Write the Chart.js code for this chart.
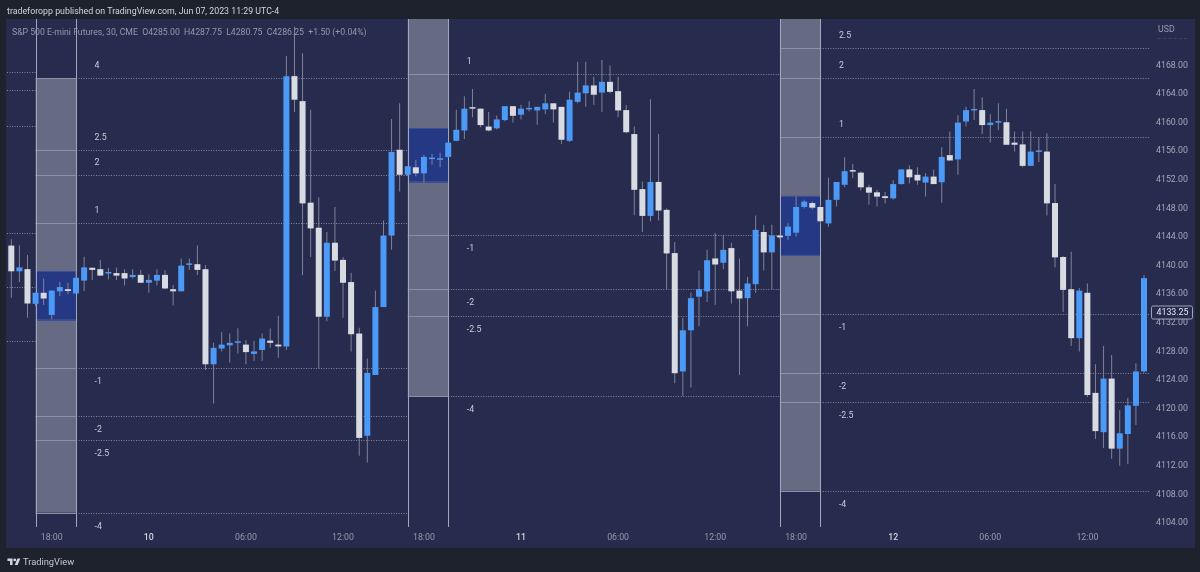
<!DOCTYPE html>
<html>
<head>
<meta charset="utf-8">
<title>ES 30m</title>
<script src="https://cdn.jsdelivr.net/npm/chart.js@4/dist/chart.umd.min.js"></script>
<style>
  html, body { margin: 0; padding: 0; width: 1200px; height: 572px; overflow: hidden; background: #1e222c; }
  body { position: relative; font-family: Roboto, sans-serif; }
  #panel { position: absolute; left: 6px; top: 19px; width: 1189px; height: 529px; background: #272b4d; }
  #chart { position: absolute; left: 0; top: 0; }
  .txt { position: absolute; white-space: pre; }
  #published { left: 7px; top: 4px; font-size: 8.8px; line-height: 14px; color: #d1d4dc; }
  #legend { left: 12px; top: 25px; font-size: 8.7px; line-height: 14px; color: #9598ad; }
  #usd { left: 1158px; top: 22px; font-size: 8.8px; line-height: 14px; color: #9a9db2; }
  #usdDash { position: absolute; left: 1158px; top: 38px; width: 29px; border-top: 1px dashed #3f4364; }
  #logo { position: absolute; left: 7px; top: 557px; }
  #brand { left: 23px; top: 554px; font-size: 9.3px; line-height: 15px; color: #c4c7d2; }
</style>
</head>
<body>
<div id="panel"></div>
<canvas id="chart" width="1200" height="572"></canvas>
<div class="txt" id="published">tradeforopp published on TradingView.com, Jun 07, 2023 11:29 UTC-4</div>
<div class="txt" id="legend">S&amp;P 500 E-mini Futures, 30, CME  O4285.00  H4287.75  L4280.75  C4286.25  +1.50 (+0.04%)</div>
<div class="txt" id="usd">USD</div>
<div id="usdDash"></div>
<svg id="logo" width="14" height="8" viewBox="0 0 36 22"><path fill="#d1d4dc" d="M14 22H7V11H0V4h14v18zM28 22h-8l7.5-18h8L28 22z"/><circle fill="#d1d4dc" cx="20" cy="8" r="4"/></svg>
<div class="txt" id="brand">TradingView</div>
<script>
const opens = [
  4142.6,4139,4139.3,4134.45,4136,4132.9,4136.2,4136.5,4135.9,4137.7,
  4139.5,4139.3,4138.7,4138.75,4138.75,4138.2,4138.5,4137.4,4137.7,4138.5,
  4136.5,4136.2,4139.9,4140,4139.3,4126,4128.2,4128.65,4129,4128.75,
  4127.45,4128,4129.3,4128.75,4128.5,4166.3,4162.8,4148.6,4145.1,4132.65,
  4143,4140.6,4137.5,4130.3,4116,4124.5,4134,4144,4156,4152.5,
  4153.55,4152.7,4154.7,4154.6,4155,4157.25,4158.7,4161.8,4161.75,4159.25,
  4159,4160.15,4162.1,4160.9,4161.65,4161.5,4161.65,4162.5,4162,4157.25,
  4162.7,4163.9,4165,4164,4165.5,4164.2,4161.55,4158.2,4150.5,4146.75,
  4151.5,4147.6,4141.55,4125,4130.75,4135.45,4136.2,4140.8,4140.2,4142.25,
  4136.3,4135.25,4137.2,4144.5,4141.65,4144,4143.95,4144.4,4148,4148.55,
  4148,4145.7,4149,4151.1,4153,4152.8,4150.75,4150.05,4149.5,4149.2,
  4151.2,4153.25,4152.5,4151.4,4152.25,4151.45,4155.25,4154.65,4159.95,4161.5,
  4161.55,4159.45,4159.8,4159.85,4157,4156.75,4153.75,4155.7,4155.75,4148.55,
  4141,4136.5,4129.65,4136,4122,4116.5,4124,4114.2,4116.25,4120.2,4125
];
const highs = [
  4143.5,4142.6,4141.3,4136,4138,4136.3,4137.5,4137.4,4139,4141.05,
  4139.5,4140.6,4139.5,4139.55,4139.3,4139.3,4139.2,4138.6,4139.3,4139.15,
  4137.1,4140.8,4140.8,4142.6,4139.9,4129,4130.5,4130.3,4131.05,4129.4,
  4129.3,4130.3,4131,4132.8,4169.1,4173.2,4169.5,4161.6,4149.35,4144.5,
  4148,4141,4138.8,4131.1,4126.8,4136.3,4146.1,4160.3,4162.5,4153.7,
  4154.6,4155.3,4155.4,4155.6,4157,4161.6,4163.5,4164.5,4161.75,4161.3,
  4160.8,4162.1,4162.1,4162.3,4162.8,4162,4163.8,4162.5,4162,4164.1,
  4168.3,4168.3,4166.2,4168.55,4167.8,4166.2,4162.25,4159.25,4151.55,4163.05,
  4158.2,4147.8,4143.1,4132.5,4136.05,4139.1,4142,4144.4,4144.1,4143,
  4140.8,4138.25,4146.8,4145.5,4145.5,4144.1,4145.8,4149.5,4149,4148.75,
  4148.3,4152.1,4151.5,4154.95,4154,4152.95,4151.1,4150.4,4150.1,4151.75,
  4153.25,4153.85,4153.55,4152.7,4153.25,4156.35,4158.55,4160.85,4162,4164.5,
  4163.35,4161,4162.5,4161.75,4158.55,4158.55,4158.55,4157.75,4158.3,4151.2,
  4141.1,4141.75,4136.65,4137.3,4126,4128.55,4127.3,4119.6,4121.3,4126.15,4138.5
];
const lows = [
  4135.3,4137.5,4132.5,4134.1,4134.3,4132.3,4135.55,4135.8,4135.9,4136.25,
  4137.8,4138.4,4137.9,4137.8,4137,4138,4137.4,4136,4137,4136.5,
  4134.25,4136.2,4139.2,4138.5,4125.2,4120.5,4127.8,4126.25,4127.5,4126,
  4126.5,4126.5,4128.3,4126.9,4128,4161.3,4138.5,4141,4125.4,4132,
  4139.05,4132.5,4127.8,4113.2,4112.25,4124.5,4134,4142,4150.15,4152.3,
  4152.3,4151.4,4153.9,4153.55,4154.9,4157.2,4157.5,4160.55,4159.15,4158.55,
  4158.85,4160,4159.8,4160.25,4161.35,4159.5,4161,4159.8,4156.8,4157.1,
  4162.5,4162,4162.3,4161.3,4163.9,4160.55,4158.3,4146.85,4144.5,4146,
  4146.1,4136.5,4123.35,4121.55,4122.75,4131.3,4134.7,4134.3,4139.3,4134.5,
  4124.5,4131.3,4136,4139.1,4136.5,4143.5,4143.4,4143.85,4147.8,4147.65,
  4145.6,4145.25,4148.05,4150.75,4152.05,4150.3,4148.3,4148.05,4148.5,4149.05,
  4151.15,4151.3,4151.1,4149.45,4151.2,4148.6,4154.5,4152.5,4159.25,4160.15,
  4158.2,4157,4158.75,4156.7,4155.75,4153.55,4153.75,4154.3,4146.8,4139.55,
  4133.3,4128.55,4127.8,4121.4,4115.55,4114.3,4112.8,4111.8,4112.05,4117.5,4124.8
];
const closes = [
  4139,4139.55,4134.5,4136,4135.2,4136.3,4136.8,4136.25,4138.1,4139.55,
  4139.2,4138.4,4138.8,4138.4,4138,4138.5,4137.4,4137.8,4138.5,4136.6,
  4136.2,4139.8,4140,4139.2,4126,4128.3,4128.75,4129,4129.1,4127.7,
  4127.8,4129.6,4129,4128.5,4166.3,4163,4148.5,4145,4132.65,4143,
  4140.5,4137.4,4130.2,4115.7,4124.8,4134,4144,4155.7,4152.5,4153.7,
  4152.7,4155,4154.75,4154.7,4157,4158.8,4161.75,4161.75,4159.45,4158.7,
  4160.25,4162.1,4160.75,4161.75,4161.8,4162,4162.5,4161.65,4157.4,4163,
  4164,4165,4163.7,4165.5,4164.1,4161.5,4158.45,4150.4,4146.75,4151.5,
  4147.5,4141.5,4124.75,4130.75,4135.25,4136.5,4140.55,4139.95,4142,4136.2,
  4135.2,4137.3,4144.8,4141.65,4144,4143.75,4145.25,4148,4148.75,4147.9,
  4146,4149,4151.5,4153,4152.95,4150.75,4150,4149.45,4149.25,4151.2,
  4153.25,4152.15,4151.7,4152.25,4151.2,4155,4154.5,4159.8,4161.55,4161.7,
  4159.45,4159.8,4160,4156.7,4156.7,4153.75,4155.75,4155.8,4148.5,4140.95,
  4136.4,4129.65,4136.3,4121.7,4116.65,4124,4114.2,4116.35,4120.25,4125,4138.05
];

// bar index of each time label
const timeTickBars = [5, 17, 29, 41, 51, 63, 75, 87, 97, 109, 121, 133];
const timeTickLabels = ['18:00', '10', '06:00', '12:00', '18:00', '11', '06:00', '12:00', '18:00', '12', '06:00', '12:00'];
const dayLabels = ['10', '11', '12'];
const priceTicks = [4104, 4108, 4112, 4116, 4120, 4124, 4128, 4132, 4136, 4140, 4144, 4148, 4152, 4156, 4160, 4164, 4168];
const lastPrice = 4133.25;

// opening range boxes: start/end bar, range high/low, fib levels and their names
const zoneStart = [3, 49, 95];
const zoneEnd = [8, 54, 100];
const zoneHigh = [4139, 4159.05, 4149.55];
const zoneLow = [4132.25, 4151.55, 4141.3];
const zoneLineEnd = [49, 95, 140.7];
const zoneLevels = [
  [4166, 4155.9, 4152.5, 4145.75, 4125.5, 4118.75, 4115.4, 4105.25],
  [4166.55, 4144.05, 4136.55, 4132.8, 4121.55],
  [4170.2, 4166.05, 4157.8, 4133.05, 4124.8, 4120.7, 4108.3]
];
const zoneLevelNames = [
  ['4', '2.5', '2', '1', '-1', '-2', '-2.5', '-4'],
  ['1', '-1', '-2', '-2.5', '-4'],
  ['2.5', '2', '1', '-1', '-2', '-2.5', '-4']
];
// does the grey box stop at the top level, or run off the top of the chart
const zoneTopClipped = [false, true, true];
// leftovers of the session before the first box
const priorLevels = [4166.85, 4164.35, 4159.35, 4144.3, 4136.8, 4129.3];

const UP = '#4c9af7';
const DOWN = '#d9dbe3';
const WICK = '#7f8399';
const XMIN = -0.655;
const XMAX = 140.74;

const bars = opens.map((o, i) => i);

const zonePlugin = {
  id: 'zones',
  beforeDatasetsDraw(chart) {
    const { ctx, scales: { x, y }, chartArea: area } = chart;
    ctx.save();

    function dotted(x1, x2, yy) {
      ctx.setLineDash([1, 1.5]);
      ctx.strokeStyle = 'rgba(190,194,215,0.62)';
      ctx.lineWidth = 1;
      ctx.beginPath();
      ctx.moveTo(x1, yy);
      ctx.lineTo(x2, yy);
      ctx.stroke();
      ctx.setLineDash([]);
    }

    priorLevels.forEach(p => dotted(area.left + 1, x.getPixelForValue(zoneStart[0]), Math.round(y.getPixelForValue(p)) + 0.5));

    zoneStart.forEach((start, z) => {
      const x1 = x.getPixelForValue(start);
      const x2 = x.getPixelForValue(zoneEnd[z]);
      const lineEnd = x.getPixelForValue(zoneLineEnd[z]);
      const levels = zoneLevels[z];
      const top = zoneTopClipped[z] ? area.top : y.getPixelForValue(levels[0]);
      const bottom = y.getPixelForValue(levels[levels.length - 1]);
      const hi = y.getPixelForValue(zoneHigh[z]);
      const lo = y.getPixelForValue(zoneLow[z]);

      ctx.fillStyle = '#666a83';
      ctx.fillRect(x1, top, x2 - x1, bottom - top);
      ctx.fillStyle = '#243884';
      ctx.fillRect(x1, hi, x2 - x1, lo - hi);

      ctx.font = '8.8px Roboto, sans-serif';
      ctx.textBaseline = 'middle';
      ctx.textAlign = 'left';
      levels.forEach((p, n) => {
        const yy = Math.round(y.getPixelForValue(p)) + 0.5;
        ctx.strokeStyle = '#8d91a8';
        ctx.lineWidth = 1;
        ctx.beginPath();
        ctx.moveTo(x1, yy);
        ctx.lineTo(x2, yy);
        ctx.stroke();
        dotted(x2, lineEnd, yy);
        ctx.fillStyle = '#c9cbd8';
        const name = zoneLevelNames[z][n];
        ctx.fillText(name, x2 + 18.5, yy + (name.startsWith('-') ? 13 : -12.3));
      });

      // range edges in the blue box
      ctx.strokeStyle = '#3c4f96';
      ctx.lineWidth = 1;
      [hi, lo].forEach(yy => {
        ctx.beginPath();
        ctx.moveTo(x1, Math.round(yy) + 0.5);
        ctx.lineTo(x2, Math.round(yy) + 0.5);
        ctx.stroke();
      });
      // box sides run the full height
      ctx.strokeStyle = '#a3a7bb';
      [x1, x2].forEach(xx => {
        ctx.beginPath();
        ctx.moveTo(Math.round(xx) + 0.5, area.top);
        ctx.lineTo(Math.round(xx) + 0.5, area.bottom);
        ctx.stroke();
      });
    });
    ctx.restore();
  },
  afterDraw(chart) {
    const { ctx, scales: { y }, chartArea: area } = chart;
    const yy = y.getPixelForValue(lastPrice);
    ctx.save();
    ctx.fillStyle = '#272b4d';
    ctx.strokeStyle = '#a0a4b6';
    ctx.lineWidth = 1;
    ctx.beginPath();
    ctx.roundRect(area.right + 1.5, Math.round(yy) - 6, 41, 13, 1.5);
    ctx.fill();
    ctx.stroke();
    ctx.fillStyle = '#e4e6ee';
    ctx.font = '8.8px Roboto, sans-serif';
    ctx.textBaseline = 'middle';
    ctx.textAlign = 'left';
    ctx.fillText(lastPrice.toFixed(2), area.right + 6.5, Math.round(yy) + 0.5);
    ctx.restore();
  }
};

new Chart(document.getElementById('chart'), {
  type: 'bar',
  data: {
    datasets: [
      {
        label: 'wick',
        data: bars.map(i => ({ x: i, y: [lows[i], highs[i]] })),
        backgroundColor: WICK,
        barThickness: 1,
        grouped: false,
        order: 2,
        inflateAmount: 0
      },
      {
        label: 'body',
        data: bars.map(i => ({ x: i, y: [opens[i], closes[i]] })),
        backgroundColor: bars.map(i => closes[i] >= opens[i] ? UP : DOWN),
        barThickness: 6,
        minBarLength: 1.5,
        grouped: false,
        order: 1,
        inflateAmount: 0
      }
    ]
  },
  plugins: [zonePlugin],
  options: {
    responsive: false,
    animation: false,
    events: [],
    layout: { padding: { left: 6, top: 19, right: 5, bottom: 24 } },
    plugins: { legend: { display: false }, tooltip: { enabled: false } },
    scales: {
      x: {
        type: 'linear',
        offset: false,
        min: XMIN,
        max: XMAX,
        grid: { display: false, drawTicks: false },
        border: { display: false },
        afterFit: s => { s.height = 21; },
        afterBuildTicks: s => { s.ticks = timeTickBars.map(value => ({ value })); },
        ticks: {
          autoSkip: false,
          maxRotation: 0,
          padding: 6,
          callback: v => timeTickLabels[timeTickBars.indexOf(v)],
          color: c => dayLabels.includes(timeTickLabels[c.index]) ? '#d1d4dc' : '#9598ad',
          font: c => ({ family: 'Roboto, sans-serif', size: 8.8, weight: dayLabels.includes(timeTickLabels[c.index]) ? '500' : '400' })
        }
      },
      y: {
        position: 'right',
        min: 4103.24,
        max: 4174.29,
        grid: { display: false, drawTicks: false },
        border: { display: false },
        afterFit: s => { s.width = 45; },
        afterBuildTicks: s => { s.ticks = priceTicks.map(value => ({ value })); },
        ticks: {
          autoSkip: false,
          padding: 6,
          crossAlign: 'near',
          labelOffset: 1.5,
          callback: v => v.toFixed(2),
          color: '#a4a7b9',
          font: { family: 'Roboto, sans-serif', size: 8.8 }
        }
      }
    }
  }
});
</script>
</body>
</html>
